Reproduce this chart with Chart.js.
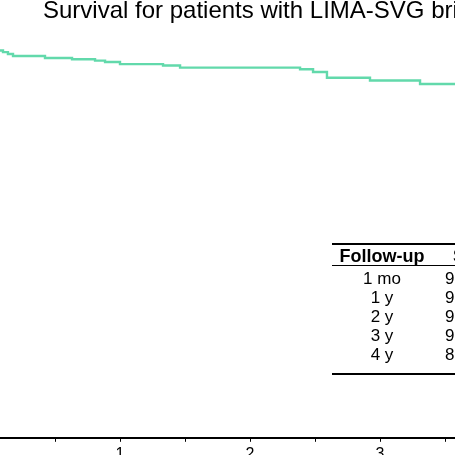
<!DOCTYPE html>
<html>
<head>
<meta charset="utf-8">
<script src="https://cdn.jsdelivr.net/npm/chart.js@4.4.1/dist/chart.umd.min.js"></script>
<style>
  html, body { margin:0; padding:0; background:#fff; width:455px; height:455px; overflow:hidden; position:relative; font-family:"Liberation Sans", Arial, sans-serif; }
  #wrap { position:absolute; left:-20px; top:0; width:540px; height:467px; }
  #title { position:absolute; left:43px; top:-3px; font-size:24px; white-space:nowrap; color:#000; line-height:26px; }
  .cell { position:absolute; font-size:17px; line-height:19px; color:#000; white-space:nowrap; }
  .rule { position:absolute; left:332px; width:140px; background:#000; }
</style>
</head>
<body>
<div id="wrap"><canvas id="c" width="540" height="467"></canvas></div>
<div id="title">Survival for patients with LIMA-SVG bridge grafts</div>
<div id="table"></div>
<script>
// Kaplan-Meier step data (years, survival %)
const timeYears = [0, 0.06, 0.10, 0.138, 0.177, 0.423, 0.631, 0.808, 0.885, 1.0, 1.331, 1.462, 2.385, 2.485, 2.592, 2.923, 3.308, 3.85, 4.0];
const survival  = [100, 99.6, 99.2, 98.7, 98.2, 97.7, 97.35, 97.0, 96.65, 96.1, 95.75, 95.2, 94.8, 94.1, 92.6, 91.9, 91.0, 89.0, 89.0];
const xTicks = [0, 1, 2, 3, 4];
const followUp = ['1 mo', '1 y', '2 y', '3 y', '4 y'];
const survivalText = ['99%', '96%', '95%', '92%', '89%'];
const tableHeaders = ['Follow-up', 'Survival'];

const pts = timeYears.map((t, i) => ({ x: t, y: survival[i] }));

new Chart(document.getElementById('c'), {
  type: 'line',
  data: { datasets: [{ data: pts, stepped: true, borderColor: '#62d9ab', borderWidth: 2.4, pointRadius: 0, fill: false, clip: false }] },
  options: {
    responsive: false, animation: false, devicePixelRatio: 1,
    layout: { padding: { left: 10, right: 10, top: 49, bottom: 0 } },
    plugins: { legend: { display: false }, tooltip: { enabled: false }, title: { display: false } },
    scales: {
      y: { display: false, min: 0, max: 100 },
      x: {
        type: 'linear', min: 0, max: 4,
        border: { display: true, color: '#000', width: 2 },
        grid: { display: true, drawOnChartArea: false, drawTicks: true, tickLength: 4, color: '#000', tickWidth: 1 },
        ticks: { stepSize: 0.5, color: '#000', font: { size: 16, family: '"Liberation Sans", Arial, sans-serif' }, padding: 3,
          callback: v => (xTicks.includes(v) ? String(v) : '') , maxRotation: 0, autoSkip: false }
      }
    }
  }
});

// table
const tbl = document.getElementById('table');
function cell(text, x, y, w, align, bold) {
  const d = document.createElement('div');
  d.className = 'cell';
  d.textContent = text;
  d.style.left = x + 'px'; d.style.top = y + 'px';
  if (w) { d.style.width = w + 'px'; }
  d.style.textAlign = align;
  if (bold) { d.style.fontWeight = 'bold'; d.style.fontSize = '18px'; }
  tbl.appendChild(d);
}
function rule(y, h) {
  const d = document.createElement('div');
  d.className = 'rule'; d.style.top = y + 'px'; d.style.height = h + 'px';
  tbl.appendChild(d);
}
rule(243, 2);
cell(tableHeaders[0], 332, 247, 100, 'center', true);
cell(tableHeaders[1], 453, 247, null, 'left', true);
rule(265, 1);
followUp.forEach((f, i) => {
  cell(f, 332, 269 + i * 19, 100, 'center', false);
  cell(survivalText[i], 445, 269 + i * 19, null, 'left', false);
});
rule(373, 2);
</script>
</body>
</html>
